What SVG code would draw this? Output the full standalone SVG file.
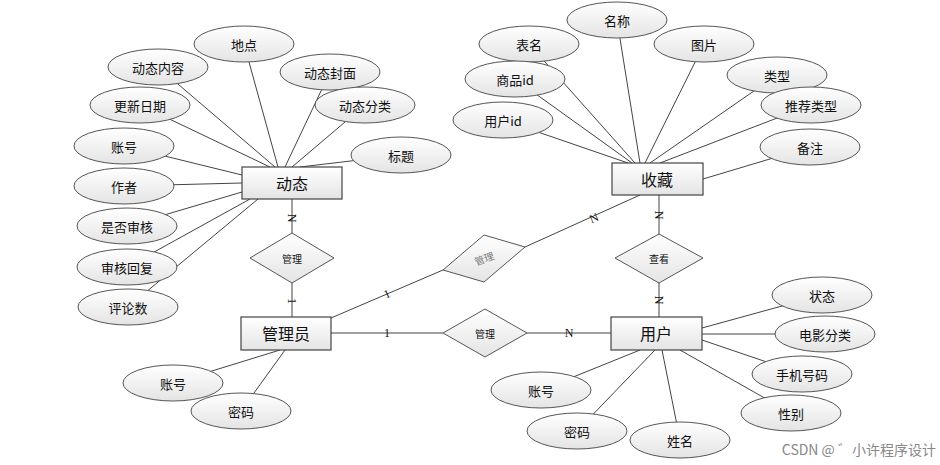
<svg xmlns="http://www.w3.org/2000/svg" width="940" height="465" viewBox="0 0 940 465">
<defs>
<linearGradient id="g" x1="0" y1="0" x2="0" y2="1"><stop offset="0" stop-color="#ffffff"/><stop offset="1" stop-color="#e4e4e4"/></linearGradient>
<style>
.e{fill:url(#g);stroke:#555;stroke-width:1}
.r{fill:url(#g);stroke:#444;stroke-width:1.2}
.d{fill:url(#g);stroke:#555;stroke-width:1}
.c line{stroke:#444;stroke-width:1;fill:none}
text{font-family:"Noto Sans CJK SC","Liberation Sans",sans-serif;fill:#111;text-anchor:middle;dominant-baseline:central}
.t{font-size:13px}.b{font-size:16px}.s{font-size:10px}.n{font-size:12px;font-family:"Liberation Serif",serif}
</style>
</defs>
<rect width="940" height="465" fill="#fff"/>
<g class="c">
<line x1="244" y1="44" x2="278" y2="167"/><line x1="158" y1="67" x2="275" y2="167"/><line x1="330" y1="72" x2="285" y2="167"/><line x1="140" y1="105" x2="270" y2="167"/><line x1="365" y1="105" x2="292" y2="167"/><line x1="401" y1="155" x2="300" y2="167"/>
<line x1="124" y1="146" x2="242" y2="175"/><line x1="124" y1="186" x2="242" y2="183"/><line x1="127" y1="226" x2="242" y2="192"/><line x1="127" y1="267" x2="250" y2="199"/><line x1="128" y1="307" x2="258" y2="199"/>
<line x1="617" y1="20" x2="640" y2="163"/><line x1="529" y1="44" x2="635" y2="163"/><line x1="704" y1="44" x2="645" y2="163"/><line x1="515" y1="79" x2="632" y2="163"/><line x1="777" y1="75" x2="650" y2="163"/><line x1="503" y1="120" x2="628" y2="163"/><line x1="811" y1="105" x2="660" y2="163"/><line x1="810" y1="147" x2="703" y2="179"/>
<line x1="822" y1="295" x2="702" y2="328"/><line x1="825" y1="334" x2="702" y2="334"/><line x1="802" y1="374" x2="702" y2="340"/><line x1="791" y1="413" x2="680" y2="350"/><line x1="541" y1="390" x2="640" y2="350"/><line x1="577" y1="431" x2="655" y2="350"/><line x1="680" y1="440" x2="662" y2="350"/>
<line x1="173" y1="383" x2="280" y2="350"/><line x1="241" y1="411" x2="285" y2="350"/>
<line x1="292" y1="199" x2="292" y2="233"/><line x1="292" y1="283" x2="292" y2="317"/>
<line x1="331" y1="333" x2="443" y2="333"/><line x1="527" y1="333" x2="611" y2="333"/>
<line x1="331" y1="318" x2="443" y2="270"/><line x1="525" y1="247" x2="640" y2="195"/>
<line x1="659" y1="195" x2="659" y2="234"/><line x1="659" y1="283" x2="659" y2="317"/>
</g>
<g class="lbl">
<text class="n" x="292" y="218" transform="rotate(90 292 218)">N</text>
<text class="n" x="292" y="301" transform="rotate(90 292 301)">1</text>
<text class="n" x="387" y="333">1</text><text class="n" x="569" y="333">N</text>
<text class="n" x="387" y="294" transform="rotate(-23 387 294)">1</text>
<text class="n" x="594" y="218" transform="rotate(-23 594 218)">N</text>
<text class="n" x="659" y="215" transform="rotate(90 659 215)">N</text>
<text class="n" x="659" y="300" transform="rotate(90 659 300)">N</text>
</g>
<g id="e-dongtai"><rect class="r" x="242" y="167" width="100" height="32"/><text class="b" x="292" y="183">动态</text></g>
<g id="e-admin"><rect class="r" x="241" y="317" width="90" height="33"/><text class="b" x="286" y="333">管理员</text></g>
<g id="e-shoucang"><rect class="r" x="612" y="163" width="91" height="32"/><text class="b" x="657" y="179">收藏</text></g>
<g id="e-user"><rect class="r" x="611" y="317" width="91" height="33"/><text class="b" x="656" y="333">用户</text></g>
<g id="r1"><polygon class="d" points="250,258 292,233 334,258 292,283"/><text class="s" x="292" y="258">管理</text></g>
<g id="r2"><polygon class="d" points="443,270 484,235 525,247 484,282"/><text class="s" x="484" y="258" transform="rotate(-20 484 258)" style="fill:#777">管理</text></g>
<g id="r3"><polygon class="d" points="443,333 485,309 527,333 485,357"/><text class="s" x="485" y="333">管理</text></g>
<g id="r4"><polygon class="d" points="615,258 659,234 703,258 659,283"/><text class="s" x="659" y="258">查看</text></g>
<g id="attrs">
<g><ellipse class="e" cx="244" cy="44" rx="50" ry="18"/><text class="t" x="244" y="44">地点</text></g>
<g><ellipse class="e" cx="158" cy="67" rx="50" ry="18"/><text class="t" x="158" y="67">动态内容</text></g>
<g><ellipse class="e" cx="330" cy="72" rx="50" ry="18"/><text class="t" x="330" y="72">动态封面</text></g>
<g><ellipse class="e" cx="140" cy="105" rx="50" ry="18"/><text class="t" x="140" y="105">更新日期</text></g>
<g><ellipse class="e" cx="365" cy="105" rx="50" ry="18"/><text class="t" x="365" y="105">动态分类</text></g>
<g><ellipse class="e" cx="401" cy="155" rx="50" ry="18"/><text class="t" x="401" y="155">标题</text></g>
<g><ellipse class="e" cx="124" cy="146" rx="50" ry="18"/><text class="t" x="124" y="146">账号</text></g>
<g><ellipse class="e" cx="124" cy="186" rx="50" ry="18"/><text class="t" x="124" y="186">作者</text></g>
<g><ellipse class="e" cx="127" cy="226" rx="50" ry="18"/><text class="t" x="127" y="226">是否审核</text></g>
<g><ellipse class="e" cx="127" cy="267" rx="50" ry="18"/><text class="t" x="127" y="267">审核回复</text></g>
<g><ellipse class="e" cx="128" cy="307" rx="50" ry="18"/><text class="t" x="128" y="307">评论数</text></g>
<g><ellipse class="e" cx="617" cy="20" rx="50" ry="18"/><text class="t" x="617" y="20">名称</text></g>
<g><ellipse class="e" cx="529" cy="44" rx="50" ry="18"/><text class="t" x="529" y="44">表名</text></g>
<g><ellipse class="e" cx="704" cy="44" rx="50" ry="18"/><text class="t" x="704" y="44">图片</text></g>
<g><ellipse class="e" cx="515" cy="79" rx="50" ry="18"/><text class="t" x="515" y="79">商品id</text></g>
<g><ellipse class="e" cx="777" cy="75" rx="50" ry="18"/><text class="t" x="777" y="75">类型</text></g>
<g><ellipse class="e" cx="503" cy="120" rx="50" ry="18"/><text class="t" x="503" y="120">用户id</text></g>
<g><ellipse class="e" cx="811" cy="105" rx="50" ry="18"/><text class="t" x="811" y="105">推荐类型</text></g>
<g><ellipse class="e" cx="810" cy="147" rx="50" ry="18"/><text class="t" x="810" y="147">备注</text></g>
<g><ellipse class="e" cx="822" cy="295" rx="50" ry="18"/><text class="t" x="822" y="295">状态</text></g>
<g><ellipse class="e" cx="825" cy="334" rx="50" ry="18"/><text class="t" x="825" y="334">电影分类</text></g>
<g><ellipse class="e" cx="802" cy="374" rx="50" ry="18"/><text class="t" x="802" y="374">手机号码</text></g>
<g><ellipse class="e" cx="791" cy="413" rx="50" ry="18"/><text class="t" x="791" y="413">性别</text></g>
<g><ellipse class="e" cx="541" cy="390" rx="50" ry="18"/><text class="t" x="541" y="390">账号</text></g>
<g><ellipse class="e" cx="577" cy="431" rx="50" ry="18"/><text class="t" x="577" y="431">密码</text></g>
<g><ellipse class="e" cx="680" cy="440" rx="50" ry="18"/><text class="t" x="680" y="440">姓名</text></g>
<g><ellipse class="e" cx="173" cy="383" rx="50" ry="18"/><text class="t" x="173" y="383">账号</text></g>
<g><ellipse class="e" cx="241" cy="411" rx="50" ry="18"/><text class="t" x="241" y="411">密码</text></g>
</g>
<text x="936" y="449" style="font-size:14px;fill:#888;text-anchor:end">CSDN @ ゛小许程序设计</text>
</svg>
